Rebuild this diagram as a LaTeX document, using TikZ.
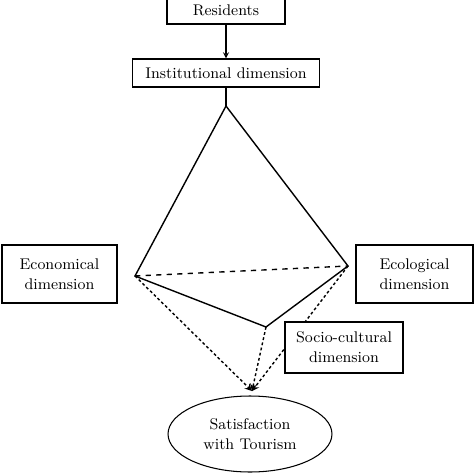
\documentclass[tikz,border=0pt]{standalone}
\usepackage{tikz}
\usetikzlibrary{shapes.geometric, positioning}
\newcommand{\dimfont}{\fontsize{8.8}{11.3}\selectfont}
\tikzstyle{dimbox} = [draw, semithick, fill=white, align=center, inner sep=0pt, font=\dimfont]
\tikzstyle{arrow} = [semithick,->,>=stealth]
\tikzstyle{dotarrow} = [thick,dash pattern=on 1.6pt off 1.4pt,->,>=stealth]
\begin{document}
\begin{tikzpicture}[x=0.02cm, y=-0.02cm]
        \useasboundingbox (0, 0) rectangle (474, 474);
        % corners of the pyramid
        \coordinate (top) at (226, 106);
        \coordinate (lft) at (135, 276);
        \coordinate (rgt) at (348, 266);
        \coordinate (bot) at (266, 327);
        \coordinate (tip) at (252, 391);
        \draw[thick] (lft) -- (top) -- (rgt) -- (bot) -- cycle;
        \draw[thick, dashed] (lft) -- (rgt);
        \draw[dotarrow] (lft) -- (tip);
        \draw[dotarrow] (bot) -- (tip);
        \draw[dotarrow] (rgt) -- (tip);
        % boxes
        \node[dimbox, minimum width=2.36cm, minimum height=0.56cm] (res) at (226, 10) {Residents};
        \node[dimbox, minimum width=3.74cm, minimum height=0.56cm] (inst) at (226, 73) {Institutional dimension};
        \node[dimbox, minimum width=2.30cm, minimum height=1.16cm] (econ) at (59.5, 274) {Economical\\dimension};
        \node[dimbox, minimum width=2.34cm, minimum height=1.16cm] (ecol) at (414.5, 274) {Ecological\\dimension};
        \node[dimbox, minimum width=2.36cm, minimum height=1.02cm] (socio) at (344, 347.5) {Socio-cultural\\dimension};
        \node[dimbox, ellipse, minimum width=3.28cm, minimum height=1.52cm] (sat) at (250, 434) {Satisfaction\\with Tourism};
        \draw[arrow] (res) -- (inst);
        \draw[semithick] (inst.south) -- (top);
\end{tikzpicture}
\end{document}
